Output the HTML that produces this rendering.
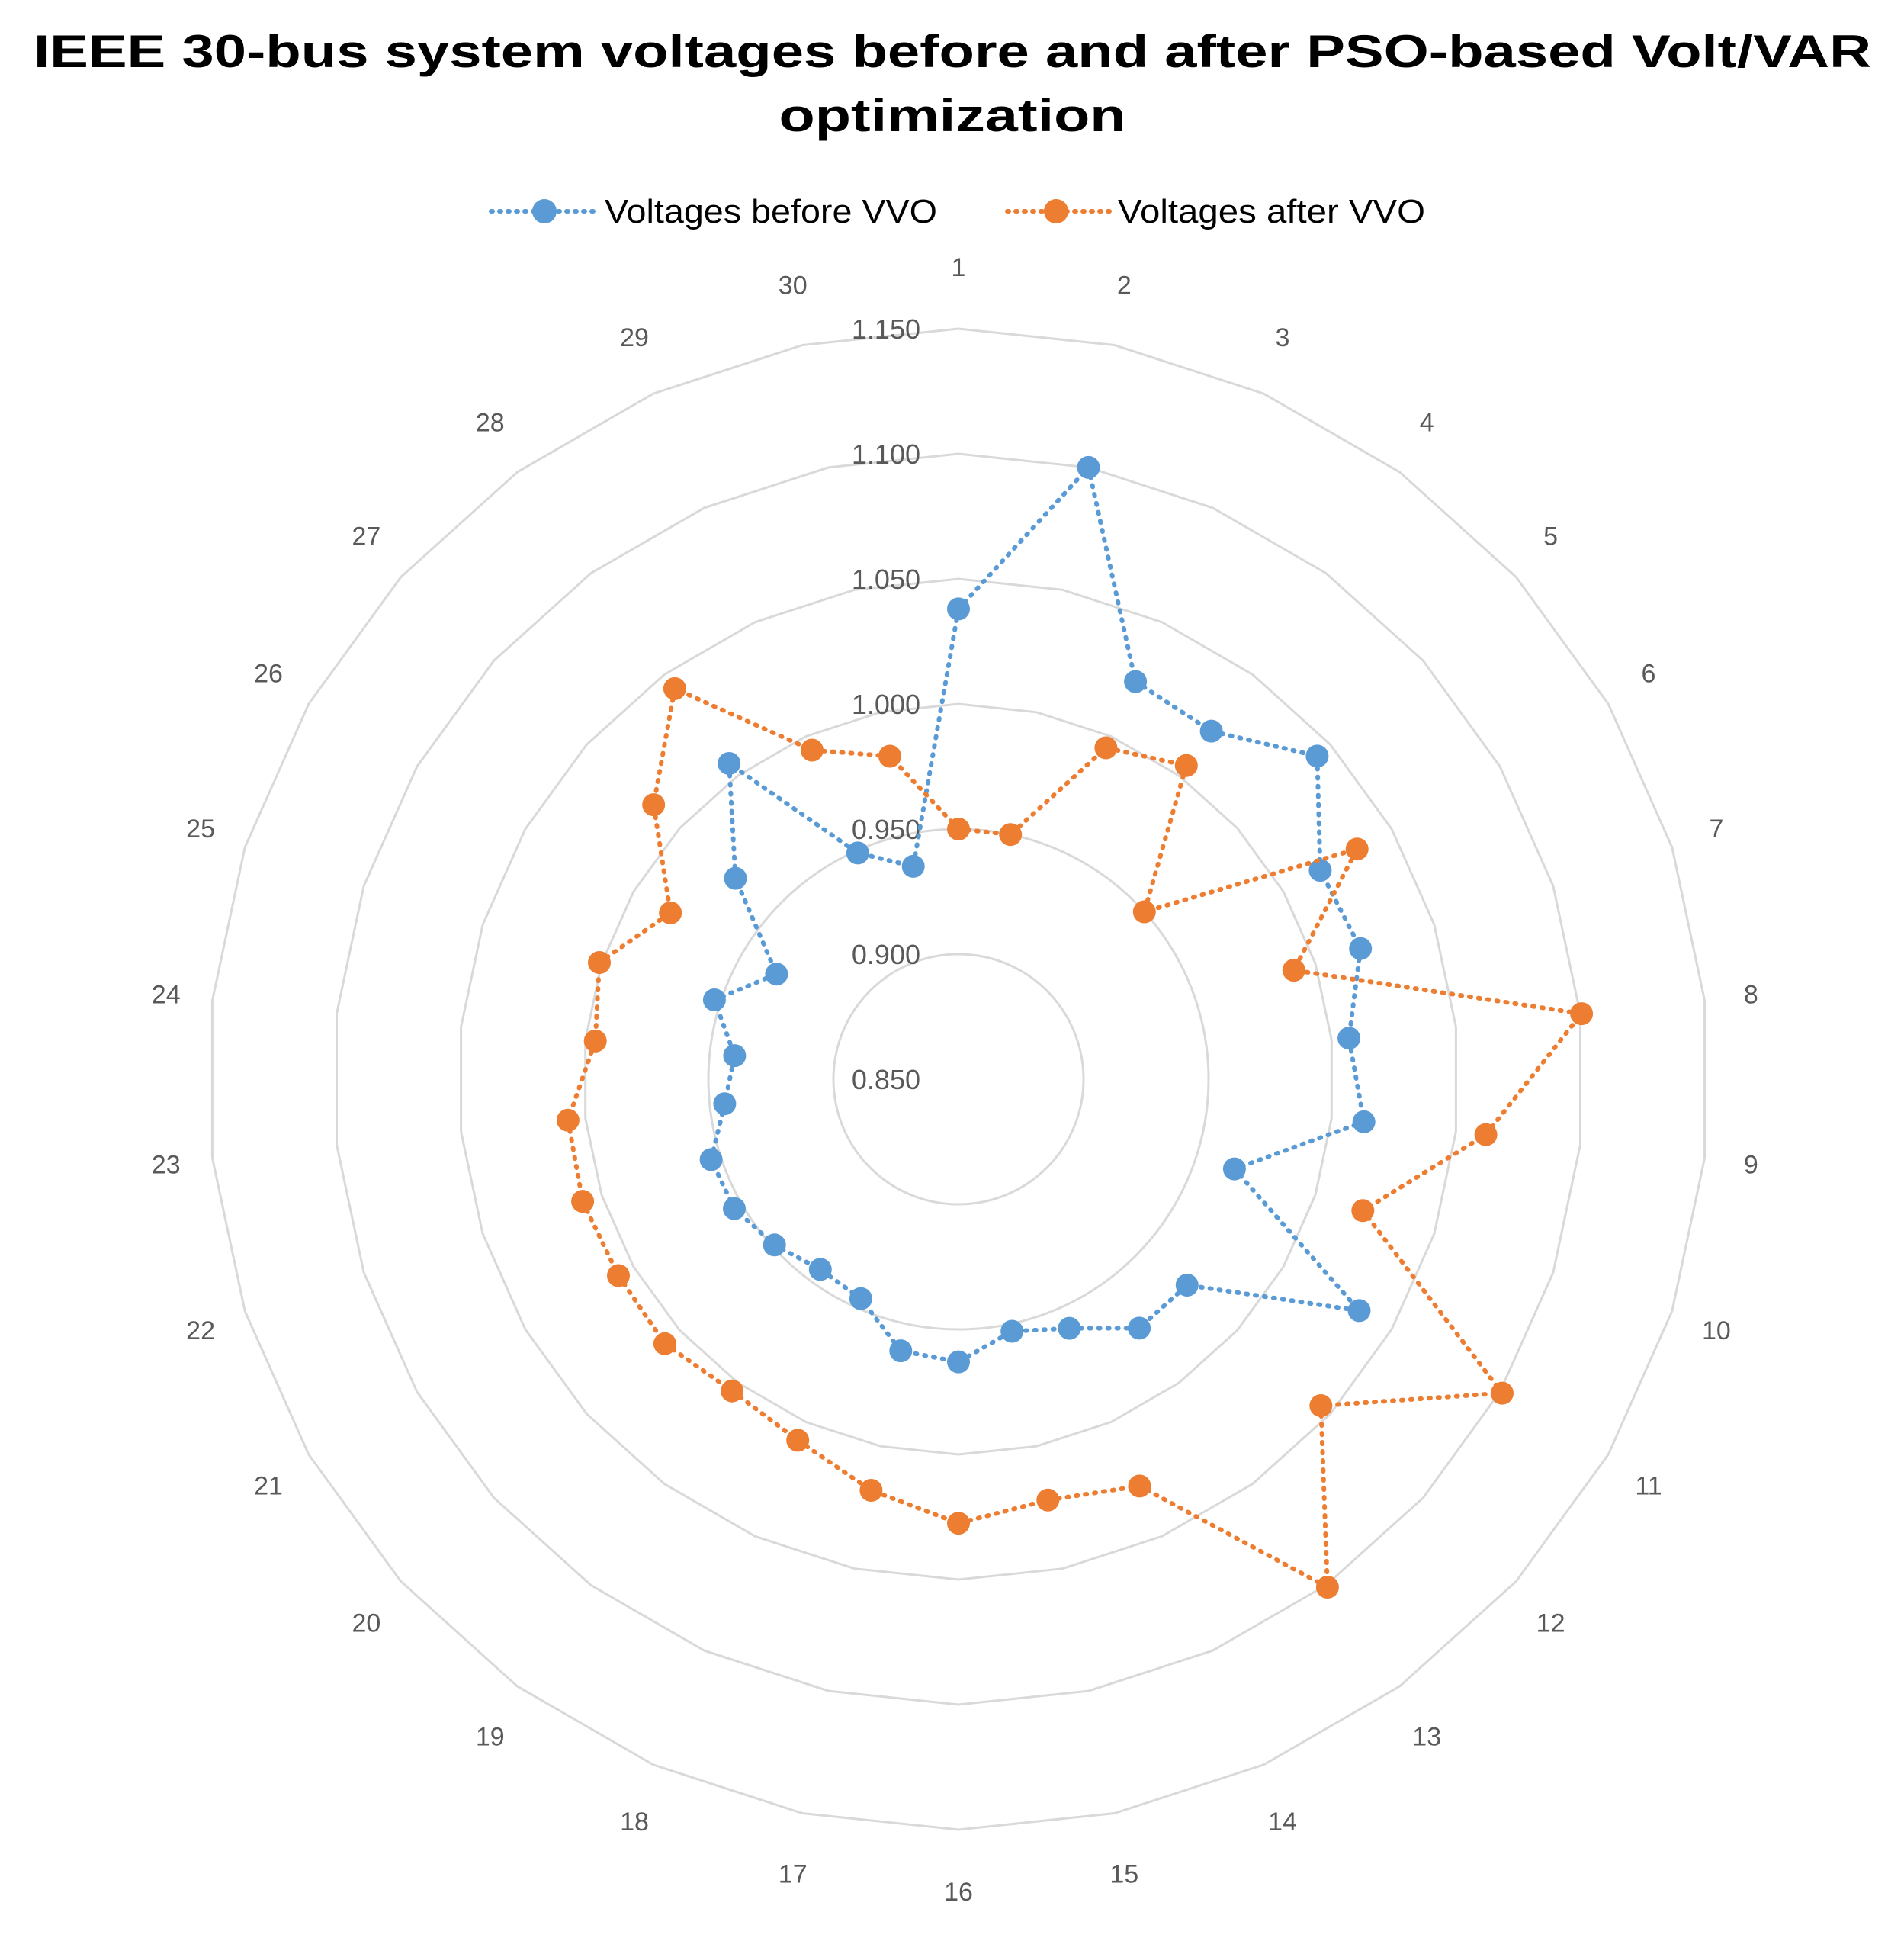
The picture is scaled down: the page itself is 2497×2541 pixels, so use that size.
<!DOCTYPE html>
<html><head><meta charset="utf-8"><style>html,body{margin:0;padding:0;background:#fff}svg{display:block}</style></head>
<body>
<svg id="s" xmlns="http://www.w3.org/2000/svg" width="2497" height="2541" viewBox="0 0 2497 2541">
<rect width="2497" height="2541" fill="#fff"/>
<text x="1249" y="88" text-anchor="middle" font-family="Liberation Sans, sans-serif" font-weight="bold" font-size="60" textLength="2410" lengthAdjust="spacingAndGlyphs" fill="#000">IEEE 30-bus system voltages before and after PSO-based Volt/VAR</text>
<text x="1249" y="172" text-anchor="middle" font-family="Liberation Sans, sans-serif" font-weight="bold" font-size="60" textLength="455" lengthAdjust="spacingAndGlyphs" fill="#000">optimization</text>
<g font-family="Liberation Sans, sans-serif" font-size="44" fill="#000">
<line x1="644" y1="277" x2="781" y2="277" stroke="#5B9BD5" stroke-width="6" stroke-dasharray="2,9" stroke-linecap="round"/>
<circle cx="714" cy="277" r="16" fill="#5B9BD5"/>
<text x="793" y="292" textLength="436" lengthAdjust="spacingAndGlyphs">Voltages before VVO</text>
<line x1="1321" y1="277" x2="1458" y2="277" stroke="#ED7D31" stroke-width="6" stroke-dasharray="2,9" stroke-linecap="round"/>
<circle cx="1385" cy="277" r="16" fill="#ED7D31"/>
<text x="1466" y="292" textLength="403" lengthAdjust="spacingAndGlyphs">Voltages after VVO</text>
</g>
<g id="g"></g>
</svg>
<script>
var cx=1257,cy=1415,U=164/0.05;
var B=[1.038,1.100,1.024,1.022,1.043,1.017,1.019,1.007,1.013,0.966,1.035,0.973,0.973,0.959,0.953,0.963,0.961,0.946,0.944,0.949,0.9535,0.954,0.944,0.940,0.9526,0.934,0.970,1.006,0.949,0.937];
var A=[0.950,0.950,0.995,1.005,0.950,1.034,0.991,1.1005,1.062,1.020,1.101,1.045,1.101,1.028,1.022,1.0275,1.018,1.008,1.004,1.008,1.007,1.008,1.007,0.996,1.001,0.983,1.014,1.043,0.994,0.982];
function P(i,r){var a=i*12*Math.PI/180;return [cx+r*Math.sin(a),cy-r*Math.cos(a)];}
var h='';
for(var k=1;k<=6;k++){var r=k*164,pts=[];
 if(k<=2){h+='<circle cx="'+cx+'" cy="'+cy+'" r="'+r+'" fill="none" stroke="#D9D9D9" stroke-width="3"/>';}
 else{for(var i=0;i<30;i++){var p=P(i,r);pts.push(p[0].toFixed(1)+','+p[1].toFixed(1));}
 h+='<polygon points="'+pts.join(' ')+'" fill="none" stroke="#D9D9D9" stroke-width="3"/>';}}
var ticks=['0.850','0.900','0.950','1.000','1.050','1.100','1.150'];
for(var k=0;k<7;k++){h+='<text x="'+(cx-50)+'" y="'+(cy-k*164+13)+'" text-anchor="end" font-family="Liberation Sans, sans-serif" font-size="36" fill="#595959">'+ticks[k]+'</text>';}
for(var i=0;i<30;i++){var a=i*12*Math.PI/180;var x=cx+1045*Math.sin(a),y=cy-1065*Math.cos(a);h+='<text x="'+x.toFixed(1)+'" y="'+(y+12).toFixed(1)+'" text-anchor="middle" font-family="Liberation Sans, sans-serif" font-size="34" fill="#595959">'+(i+1)+'</text>';}
function ser(d,c){var pts=[],m='';for(var i=0;i<30;i++){var p=P(i,(d[i]-0.85)*U);pts.push(p[0].toFixed(1)+','+p[1].toFixed(1));m+='<circle cx="'+p[0].toFixed(1)+'" cy="'+p[1].toFixed(1)+'" r="15" fill="'+c+'"/>';}
 return '<polygon points="'+pts.join(' ')+'" fill="none" stroke="'+c+'" stroke-width="6" stroke-dasharray="2,10" stroke-linecap="round"/>'+m;}
h+=ser(B,'#5B9BD5')+ser(A,'#ED7D31');
document.getElementById('g').innerHTML=h;
</script>
</body></html>
